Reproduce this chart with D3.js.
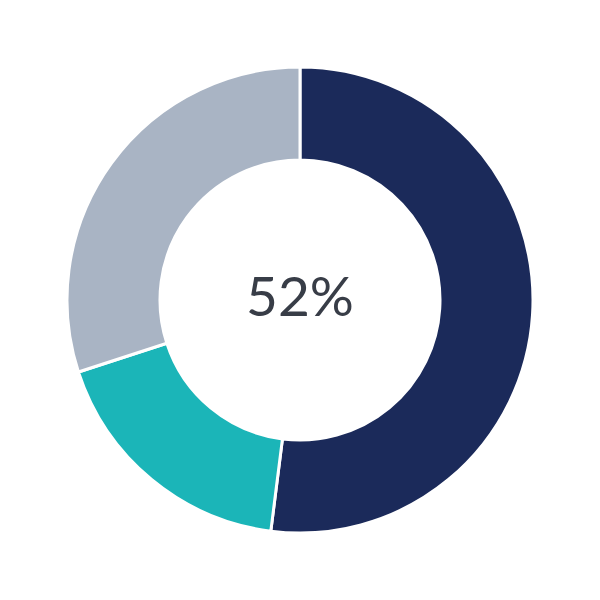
<!DOCTYPE html>
<html><head><meta charset="utf-8">
<script src="https://cdn.jsdelivr.net/npm/d3@7"></script>
<style>html,body{margin:0;padding:0;background:#fff;}</style>
</head><body>
<svg id="chart" width="600" height="600"></svg>
<script>
const categories = ["A", "B", "C"];
const values = [52, 18, 30];
const colors = ["#1b2a5a", "#1bb5b8", "#a9b4c4"];
const centerLabel = "52%";

const svg = d3.select("#chart");
const g = svg.append("g").attr("transform", "translate(300,300)");
const pie = d3.pie().sort(null).value(d => d.v);
const data = categories.map((c, i) => ({c, v: values[i], col: colors[i]}));
const arc = d3.arc().innerRadius(140).outerRadius(233);
g.selectAll("path").data(pie(data)).join("path")
  .attr("d", arc)
  .attr("fill", d => d.data.col)
  .attr("stroke", "#fff")
  .attr("stroke-width", 3);
g.append("text").text(centerLabel)
  .attr("text-anchor", "middle")
  .attr("y", 16)
  .attr("font-family", "Lato, sans-serif")
  .attr("font-weight", 400)
  .attr("font-size", 55)
  .attr("fill", "#383d47");
</script>
</body></html>
